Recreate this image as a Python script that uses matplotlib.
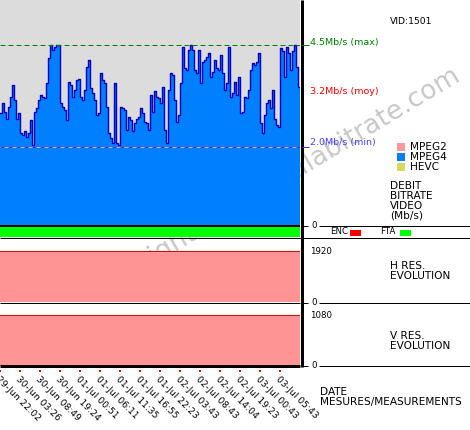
import matplotlib
matplotlib.use("Agg")
import matplotlib.pyplot as plt
import matplotlib.transforms as mtransforms
from matplotlib.patches import Rectangle
import numpy as np

plt.rcParams["font.family"] = ["DejaVu Sans"]

# ---- data ----
bitrate = [
    2.79, 3.04, 2.83, 2.66, 2.95, 3.20, 3.49, 3.12, 2.66, 2.79,
    2.29, 2.25, 2.34, 2.21, 2.29, 2.62, 2.00, 2.83, 2.91, 3.12,
    3.24, 3.20, 3.16, 3.53, 4.15, 4.48, 4.36, 4.44, 4.48, 4.48,
    3.04, 2.95, 2.87, 2.62, 3.57, 3.49, 3.20, 3.37, 3.61, 3.65,
    3.20, 3.12, 3.37, 3.94, 4.11, 3.41, 3.28, 3.12, 2.75, 2.79,
    3.78, 3.61, 3.53, 2.95, 2.29, 2.17, 2.05, 3.53, 2.05, 2.00,
    2.95, 2.91, 2.87, 2.38, 2.71, 2.62, 2.34, 2.54, 2.66, 2.71,
    2.91, 2.79, 2.58, 2.54, 2.38, 3.24, 2.83, 3.33, 3.20, 3.16,
    3.04, 3.45, 2.38, 2.05, 3.37, 3.78, 3.74, 3.12, 2.58, 2.75,
    3.53, 4.44, 3.90, 3.86, 4.36, 4.48, 4.36, 3.86, 3.78, 4.36,
    3.53, 4.07, 4.11, 4.19, 4.28, 3.70, 3.82, 4.11, 3.90, 3.86,
    4.23, 3.78, 3.37, 3.53, 4.44, 3.20, 3.28, 3.57, 3.24, 3.70,
    2.79, 2.83, 3.20, 3.16, 3.37, 3.86, 4.03, 3.99, 4.07, 4.28,
    2.54, 2.29, 2.75, 3.04, 3.12, 2.91, 3.37, 2.66, 2.50, 2.46,
    4.40, 4.32, 3.70, 4.44, 4.28, 3.86, 4.32, 4.48, 3.94, 3.45,
]
bitrate_max = 4.49
bitrate_avg = 3.2
bitrate_min = 1.96

n = len(bitrate)
h_res = [1920] * n
v_res = [1080] * n
fta = [1] * n

date_labels = [
    "29-Jun 22:02", "30-Jun 03:26", "30-Jun 08:49", "30-Jun 19:24",
    "01-Jul 00:51", "01-Jul 06:11", "01-Jul 11:35", "01-Jul 16:55",
    "01-Jul 22:23", "02-Jul 03:43", "02-Jul 08:43", "02-Jul 14:04",
    "02-Jul 19:23", "03-Jul 00:43", "03-Jul 05:43",
]
codecs = ["MPEG2", "MPEG4", "HEVC"]
codec_colors = ["#FF9999", "#0080FF", "#D8D860"]

# ---- layout (pixel based) ----
W, H = 470, 430
PX = 0.72  # 1 px in points at dpi 100

fig = plt.figure(figsize=(W / 100, H / 100), dpi=100, facecolor="white")

# watermark under everything
fig.text(462 / W, 1 - 80 / H, "Copyright © www.alabitrate.com", rotation=31,
         ha="right", va="baseline", rotation_mode="anchor", fontsize=19,
         color="#c8c8c8", zorder=-1)


def add_px_axes(x0, y0, x1, y1):
    a = fig.add_axes([x0 / W, 1 - y1 / H, (x1 - x0) / W, (y1 - y0) / H])
    a.set_xticks([])
    a.set_yticks([])
    for s in a.spines.values():
        s.set_visible(False)
    a.set_xlim(0, n)
    return a


idx = np.arange(n)
edges = np.append(idx, n)

# main bitrate panel
ax = add_px_axes(0, 0, 300, 226)
ax.set_facecolor("#DCDCDC")
ax.bar(idx, bitrate, width=1.0, align="edge", color="#0080FF", linewidth=0)
ax.step(edges, np.append(bitrate, bitrate[-1]), where="post", color="#0000C0", lw=1.4 * PX)
ax.axhline(bitrate_max, color="#008000", lw=PX, dashes=(5, 3))
ax.axhline(bitrate_min, color="#FF9999", lw=PX)
ax.axhline(bitrate_min, color="#3333FF", lw=PX, dashes=(4, 4))
ax.set_ylim(0, 226 / 40.4)

# encryption / FTA status strip
ax_s = add_px_axes(0, 227, 300, 237)
ax_s.set_facecolor("none")
ax_s.bar(idx, fta, width=1.0, align="edge", color="#00FF00", linewidth=0)
ax_s.set_ylim(0, 1)

# horizontal resolution
ax_h = add_px_axes(0, 237, 300, 302)
ax_h.set_facecolor("none")
ax_h.bar(idx, h_res, width=1.0, align="edge", color="#FF9494", linewidth=0)
ax_h.step(edges, np.append(h_res, h_res[-1]), where="post", color="#E00000", lw=PX)
ax_h.set_ylim(0, 1920 * 65 / 51)

# vertical resolution
ax_v = add_px_axes(0, 302, 300, 366)
ax_v.set_facecolor("none")
ax_v.bar(idx, v_res, width=1.0, align="edge", color="#FF9494", linewidth=0)
ax_v.step(edges, np.append(v_res, v_res[-1]), where="post", color="#E00000", lw=PX)
ax_v.set_ylim(0, 1080 * 64 / 51)
tick_idx = idx[::10]
ax_v.set_xticks(tick_idx)
ax_v.set_xticklabels(date_labels, rotation=-45, ha="left", va="top",
                     rotation_mode="anchor", fontsize=6.6)
ax_v.tick_params(axis="x", length=0, pad=6)

# overlay in pixel coordinates for frame lines and annotations
ax_o = fig.add_axes([0, 0, 1, 1], zorder=10)
ax_o.axis("off")
ax_o.set_xlim(0, W)
ax_o.set_ylim(H, 0)
ax_o.set_autoscale_on(False)


def hline(y, x0, x1, lw=1, color="black"):
    ax_o.plot([x0, x1], [y, y], color=color, lw=lw * PX, solid_capstyle="butt")


def label(x, y, s, size=7.6, color="black"):
    ax_o.text(x, y, s, fontsize=size, color=color, ha="left", va="center")


hline(226, 0, 300, 2)
hline(237.5, 0, 470, 1)
hline(302.5, 0, 300, 1)
hline(365.5, 0, 300, 3)
ax_o.plot([301.5, 301.5], [0, 367], color="black", lw=3 * PX, solid_capstyle="butt")
for y in (226, 302.5, 366):
    hline(y, 303, 308)
    label(311, y, "0", size=6.2)
    hline(y, 319, 470)

# stat markers on right
hline(44.5, 302, 309, color="#008000")
hline(147, 302, 309, color="#3333FF")
label(310, 42, f"{bitrate_max:.1f}Mb/s (max)", size=6.8, color="#008000")
label(310, 92, f"{bitrate_avg:.1f}Mb/s (moy)", size=6.8, color="#FF0000")
label(310, 143, f"{bitrate_min:.1f}Mb/s (min)", size=6.8, color="#4444FF")

label(390, 22, "VID:1501", size=6.7)

for i, (name, col) in enumerate(zip(codecs, codec_colors)):
    yc = 147 + 10 * i
    ax_o.add_patch(Rectangle((397, yc - 4), 8, 8, color=col, lw=0))
    label(410, yc, name)

for i, line in enumerate(["DEBIT", "BITRATE", "VIDEO", "(Mb/s)"]):
    label(390, 186 + 10 * i, line)

label(330, 232, "ENC", size=6.2)
ax_o.add_patch(Rectangle((350, 230), 11, 5.5, color="#FF0000", lw=0))
label(380, 232, "FTA", size=6.2)
ax_o.add_patch(Rectangle((400, 230), 11, 5.5, color="#00FF00", lw=0))

label(310, 251, "1920", size=6.2)
label(390, 266, "H RES.")
label(390, 276, "EVOLUTION")
label(310, 316, "1080", size=6.2)
label(390, 336, "V RES.")
label(390, 346, "EVOLUTION")

label(320, 392, "DATE")
label(320, 402, "MESURES/MEASUREMENTS")

# red tick dots under the time axis
blend = mtransforms.blended_transform_factory(ax_v.transData, ax_o.transData)
ax_o.plot(tick_idx, [371] * len(tick_idx), "s", ms=2 * PX, mew=0, color="red",
          transform=blend)

fig.savefig("out.png", dpi=100)
